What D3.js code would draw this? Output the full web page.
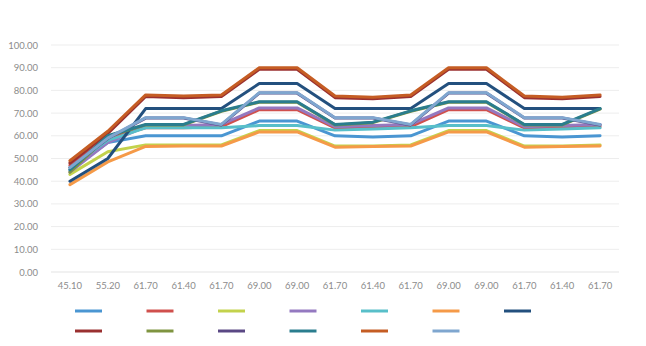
<!DOCTYPE html>
<html><head><meta charset="utf-8">
<script src="https://cdn.jsdelivr.net/npm/d3@7"></script>
<style>body{margin:0;background:#fff}svg{display:block}</style>
</head><body>
<svg id="c" width="646" height="346"></svg>
<script>
const categories = ["45.10","55.20","61.70","61.40","61.70","69.00","69.00","61.70","61.40","61.70","69.00","69.00","61.70","61.40","61.70"];
const yTicks = [0,10,20,30,40,50,60,70,80,90,100];
const seriesNames = ["","","","","","","","","","","","",""];
const s1  = [45, 57, 60, 60, 60, 66.5, 66.5, 60, 59.5, 60, 66.5, 66.5, 60, 59.5, 60];
const s2  = [47, 59, 63.5, 63.5, 64, 71.5, 71.5, 63.5, 63.5, 64, 71.5, 71.5, 63.5, 63.5, 64];
const s3  = [43, 53, 56, 56, 56, 62.3, 62.3, 55.5, 55.5, 56, 62.3, 62.3, 55.5, 55.5, 56];
const s4  = [44, 57, 64, 64.5, 65, 72.3, 72.3, 64, 64.5, 65, 72.3, 72.3, 64, 64.5, 65];
const s5  = [46, 58, 63.5, 63.5, 63.5, 64.5, 64.5, 62.5, 63, 63.5, 64.5, 64.5, 62.5, 63, 63.5];
const s6  = [38.5, 48.5, 55.3, 55.5, 55.5, 61.7, 61.7, 55, 55.3, 55.5, 61.7, 61.7, 55, 55.3, 55.5];
const s7  = [40, 50, 72, 72, 72, 83, 83, 72, 72, 72, 83, 83, 72, 72, 72];
const s8  = [48, 61, 77.3, 76.8, 77.3, 89.3, 89.3, 76.8, 76.3, 77.3, 89.3, 89.3, 76.8, 76.3, 77.3];
const s9  = [44, 59.8, 64.8, 64.8, 70.8, 74.8, 74.8, 64.8, 65.8, 70.8, 74.8, 74.8, 64.8, 64.8, 71.8];
const s10 = [46, 58.8, 67.8, 67.8, 64.8, 78.8, 78.8, 67.8, 67.8, 64.8, 78.8, 78.8, 67.8, 67.8, 64.8];
const s11 = [45, 60, 65, 65, 71, 75, 75, 65, 66, 71, 75, 75, 65, 65, 72];
const s12 = [49, 62, 78, 77.5, 78, 90, 90, 77.5, 77, 78, 90, 90, 77.5, 77, 78];
const s13 = [46, 59, 68, 68, 65, 79, 79, 68, 68, 65, 79, 79, 68, 68, 65];
const colors = ["#4a96d2","#d0504d","#c3d24c","#9479c0","#58bfc9","#f59a48","#23507e","#9a3030","#7f9440","#5a4884","#2a7d8e","#c55d24","#7fa6cf"];

const series = [s1,s2,s3,s4,s5,s6,s7,s8,s9,s10,s11,s12,s13];
const svg = d3.select("#c");
const L = 51, R = 619, T = 45, B = 272;
const x = d3.scaleBand().domain(d3.range(categories.length)).range([L, R]);
const y = d3.scaleLinear().domain([0, 100]).range([B, T]);

svg.append("g").selectAll("line").data(yTicks.slice(1)).join("line")
  .attr("x1", L).attr("x2", R).attr("y1", d => y(d)).attr("y2", d => y(d))
  .attr("stroke", "#ededed").attr("stroke-width", 1);
svg.append("line").attr("x1", L).attr("x2", R).attr("y1", y(0)).attr("y2", y(0))
  .attr("stroke", "#e3e3e3");

const yAxis = d3.axisLeft(y).tickValues(yTicks).tickFormat(d3.format(".2f")).tickSize(0).tickPadding(0);
const gy = svg.append("g").attr("transform", "translate(38,0)").call(yAxis);
gy.select(".domain").remove();
gy.selectAll("text").attr("font-family", "Lato, 'Open Sans', sans-serif").attr("font-size", "9.5px").attr("fill", "#8c8c8c");

const xAxis = d3.axisBottom(x).tickFormat(i => categories[i]).tickSize(0).tickPadding(0);
const gx = svg.append("g").attr("transform", "translate(0,282)").call(xAxis);
gx.select(".domain").remove();
gx.selectAll("text").attr("font-family", "Lato, 'Open Sans', sans-serif").attr("font-size", "9.5px").attr("fill", "#8c8c8c");

const line = d3.line().x((d, i) => x(i) + x.bandwidth() / 2).y(d => y(d));
svg.append("g").selectAll("path").data(series).join("path")
  .attr("d", d => line(d)).attr("fill", "none")
  .attr("stroke", (d, i) => colors[i]).attr("stroke-width", 3)
  .attr("stroke-linejoin", "round").attr("stroke-linecap", "round");

const leg = svg.append("g");
series.forEach((s, i) => {
  const row = i < 7 ? 0 : 1;
  const col = i < 7 ? i : i - 7;
  const lx = 75 + col * 71.5, ly = 311 + row * 20;
  leg.append("line").attr("x1", lx).attr("x2", lx + 27).attr("y1", ly).attr("y2", ly)
    .attr("stroke", colors[i]).attr("stroke-width", 3);
  leg.append("text").attr("x", lx + 31).attr("y", ly + 3).attr("font-size", "9px").attr("fill", "#8c8c8c").text(seriesNames[i]);
});
</script>
</body></html>
